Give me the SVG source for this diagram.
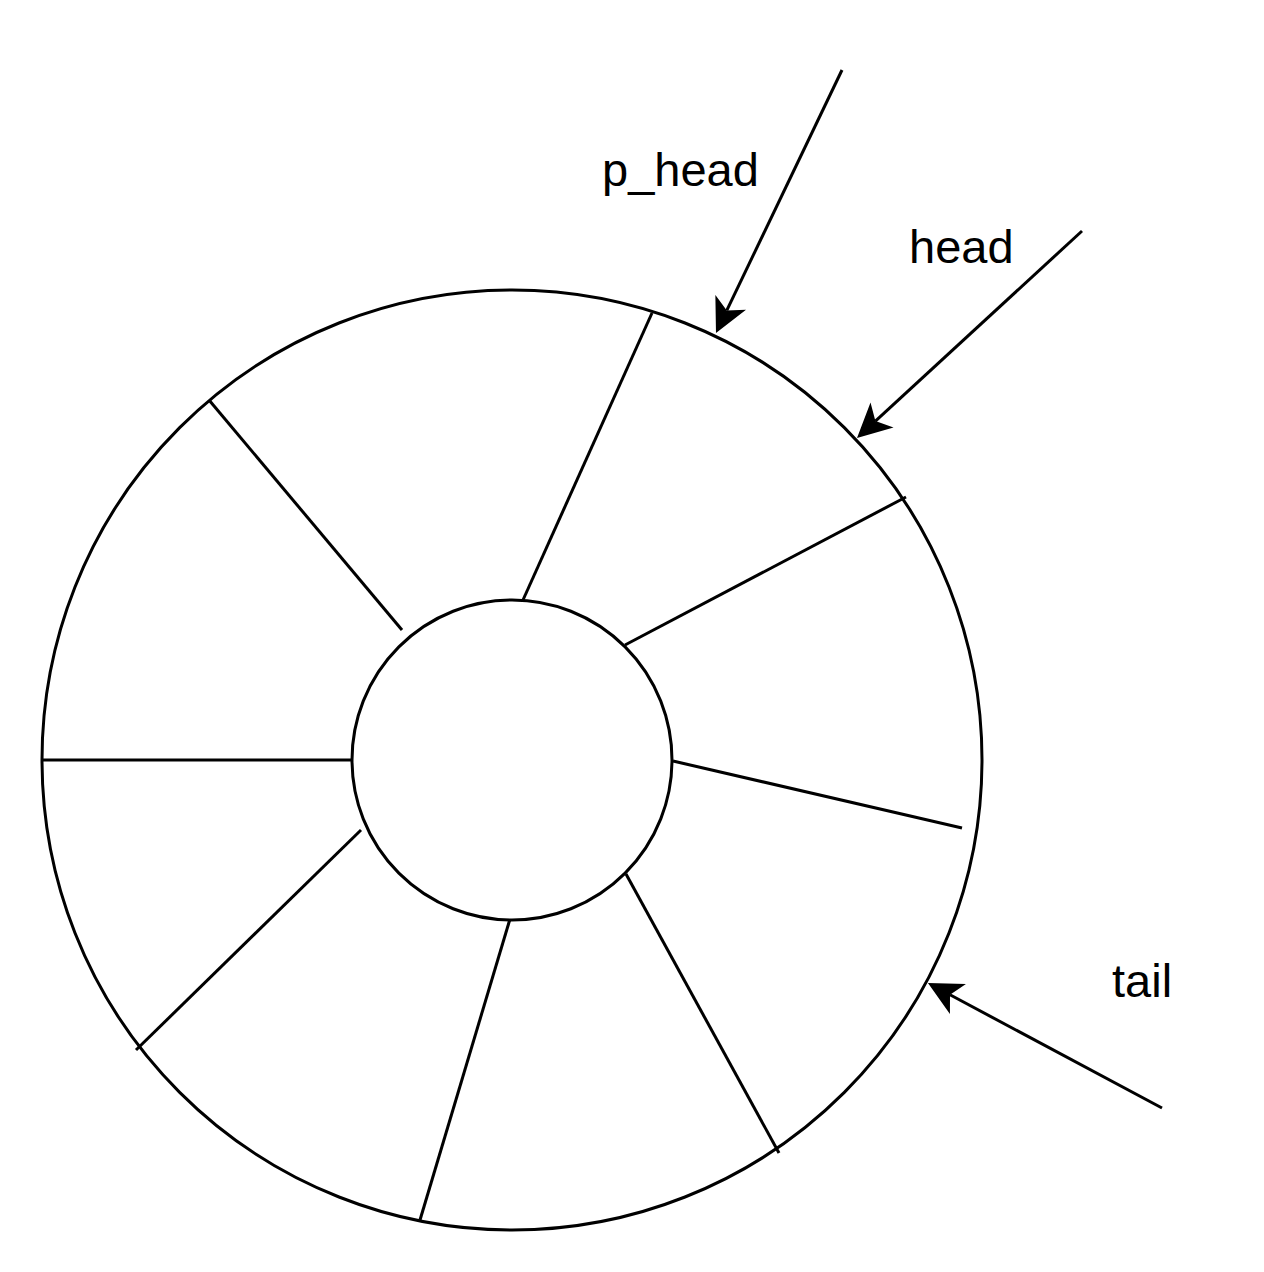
<svg xmlns="http://www.w3.org/2000/svg" width="1264" height="1272" viewBox="0 0 1264 1272">
<style>
.s{fill:none;stroke:#000;stroke-width:3}
.c{fill:#fff;stroke:#000;stroke-width:3}
.t{font-family:"Liberation Sans",Arial,sans-serif;font-size:47px;fill:#000}
</style>
<defs>
<marker id="ah" markerUnits="userSpaceOnUse" viewBox="0 0 34 34" markerWidth="34" markerHeight="34" refX="9" refY="17" orient="auto">
<path d="M0,0 L34,17 L0,34 L9,17 Z" fill="#000"/>
</marker>
</defs>
<rect width="1264" height="1272" fill="#fff"/>
<g id="outer"><circle class="c" cx="512" cy="760" r="470"/></g>
<g id="spokes">
<line class="s" x1="209" y1="400" x2="402" y2="630"/>
<line class="s" x1="652" y1="313" x2="523" y2="600"/>
<line class="s" x1="906" y1="497" x2="625" y2="645"/>
<line class="s" x1="673" y1="761" x2="962" y2="828"/>
<line class="s" x1="626" y1="874" x2="779" y2="1153"/>
<line class="s" x1="510" y1="919" x2="420" y2="1220"/>
<line class="s" x1="361" y1="830" x2="136" y2="1050"/>
<line class="s" x1="42" y1="760" x2="352" y2="760"/>
</g>
<g id="inner"><circle class="c" cx="512" cy="760" r="160"/></g>
<g id="connectors">
<line class="s" x1="842" y1="70" x2="726.8" y2="310.4" marker-end="url(#ah)"/>
<line class="s" x1="1082" y1="231" x2="875.4" y2="421.1" marker-end="url(#ah)"/>
<line class="s" x1="1162" y1="1108" x2="950" y2="994.8" marker-end="url(#ah)"/>
</g>
<g id="labels">
<text class="t" x="602" y="186">p_head</text>
<text class="t" x="909" y="263">head</text>
<text class="t" x="1112" y="997">tail</text>
</g>
</svg>
